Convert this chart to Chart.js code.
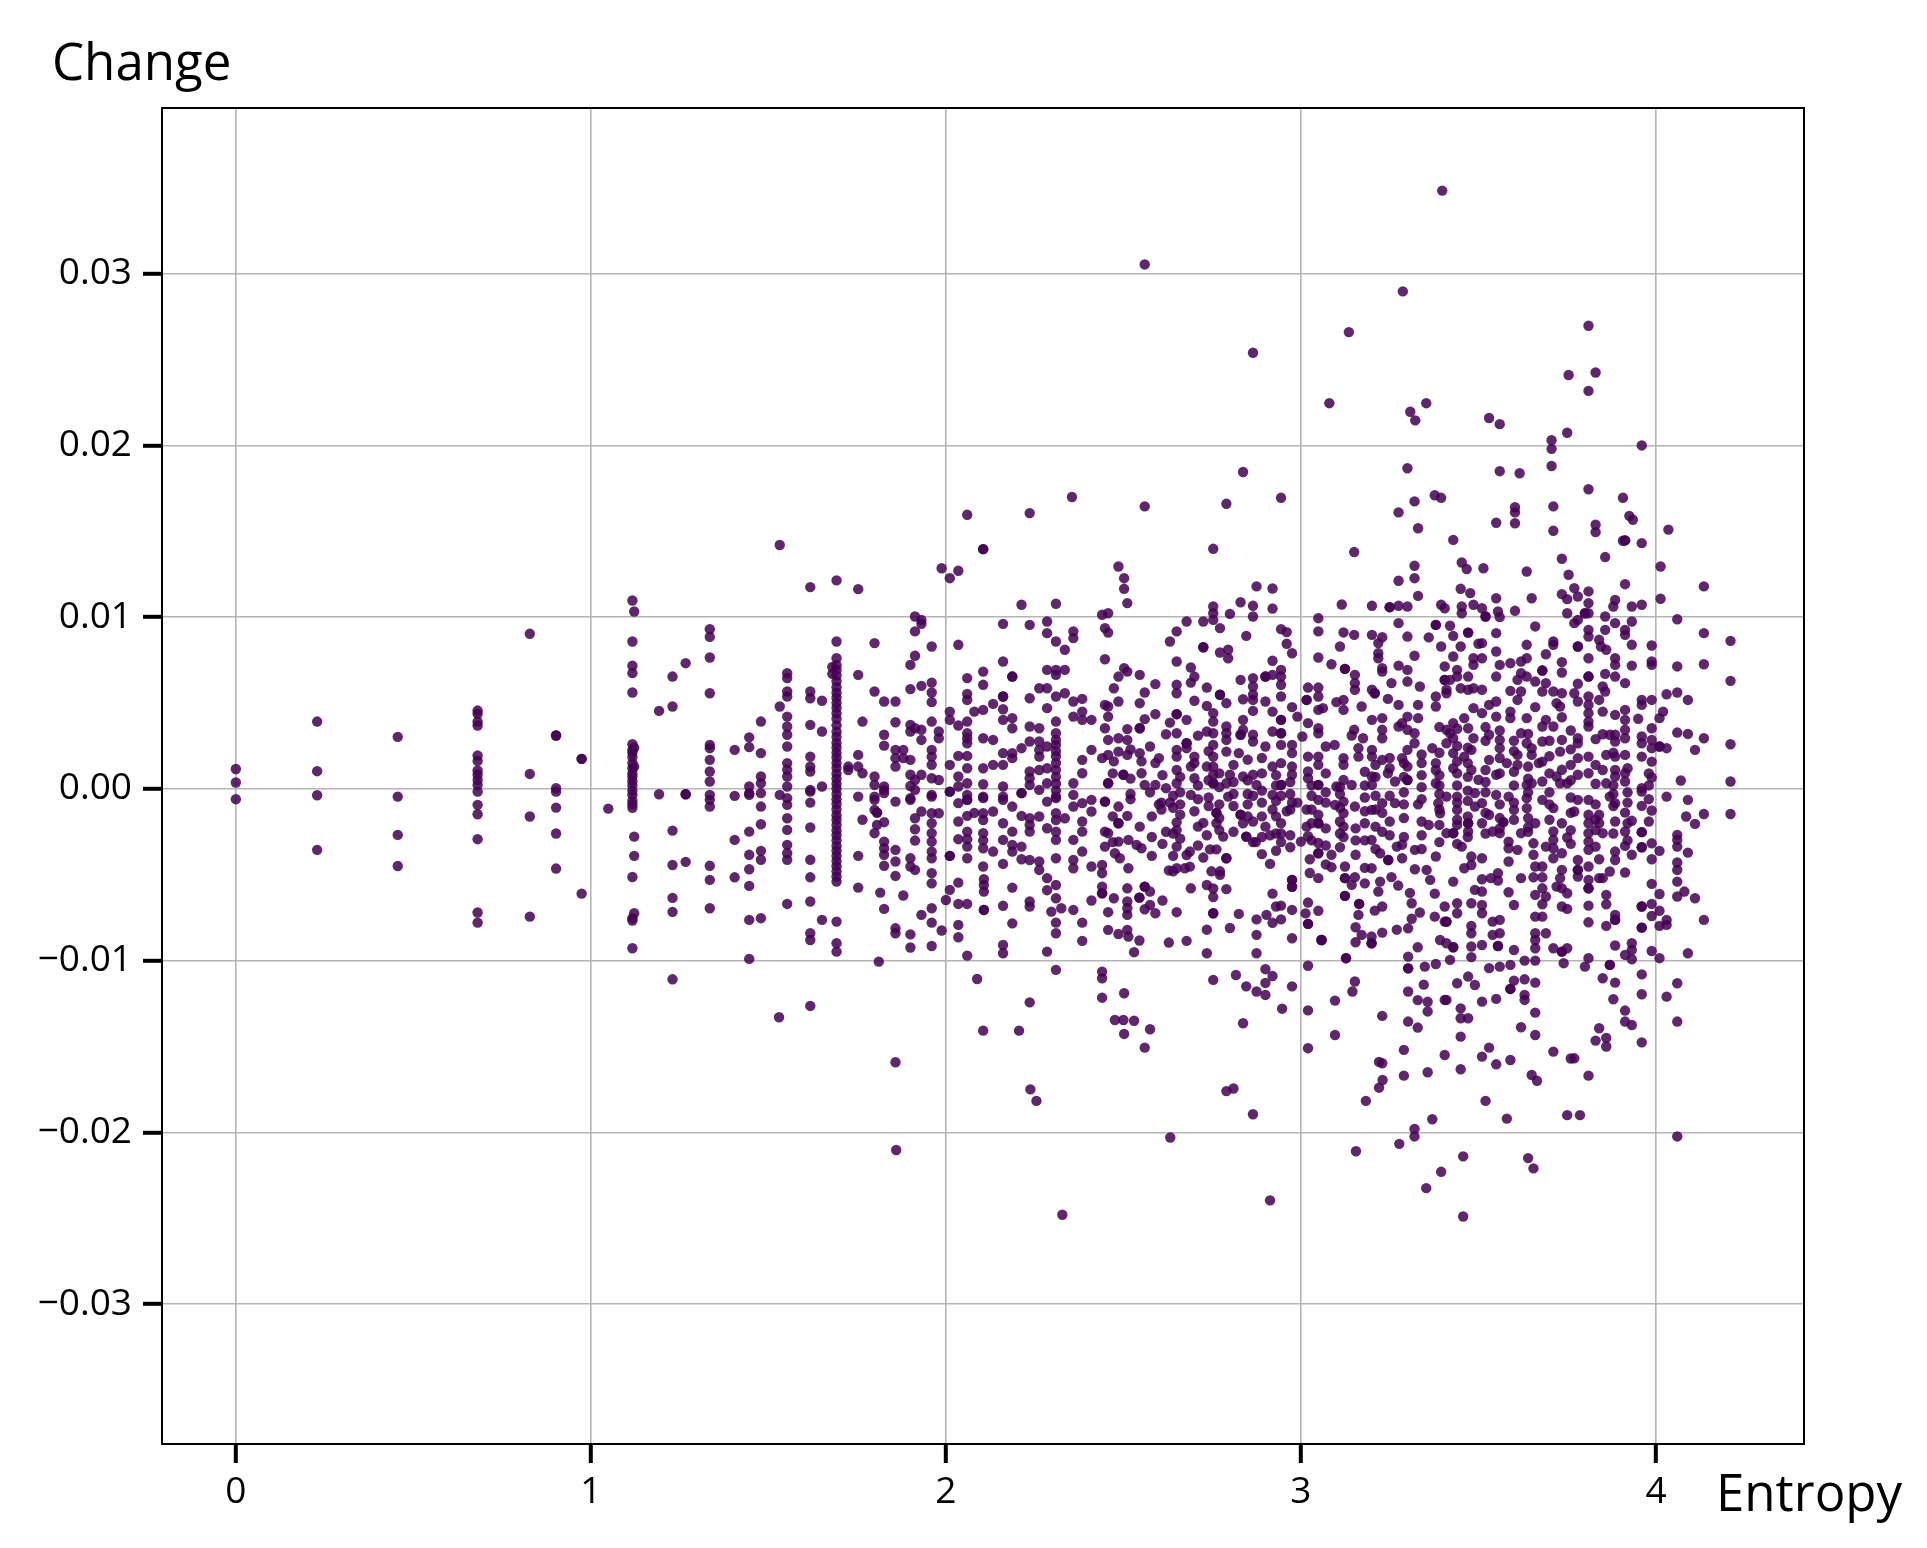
<!DOCTYPE html>
<html>
<head>
<meta charset="utf-8">
<style>html,body{margin:0;padding:0;background:#fff}canvas{display:block}</style>
<script src="https://cdn.jsdelivr.net/npm/chart.js@4"></script>
</head>
<body>
<canvas id="c" width="1927" height="1548"></canvas>
<script>
// Every row: [entropy, change in thousandths, change in thousandths, ...]
const xTickValues = [0, 1, 2, 3, 4];
const yTickValues = [0.03, 0.02, 0.01, 0, -0.01, -0.02, -0.03];
const xAxisName = "Entropy";
const yAxisName = "Change";

const rowsBelow13 = [
[0,1.16,.37,-.6],[.229,3.92,1.03,-.37,-3.55],[.456,3.03,-.45,-2.68,-4.49],
[.681,4.56,4.37,3.92,3.69,1.94,1.63,1.07,.82,.52,.23,-.16,-.93,-1.48,-2.93,-7.2,-7.79],
[.828,9.03,.87,-1.61,-7.44],[.902,3.11,3.11,.04,-.16,-1.09,-2.6,-4.64],[.974,1.75,1.75,-6.1],[1.049,-1.15],
[1.117,10.97,8.58,7.17,6.74,5.61,2.6,2.27,2.1,1.85,1.5,1.2,.9,.7,.45,.2,-.1,-.35,-.7,-.9,-1.1,-5.13,-7.53,-7.67,-9.28],
[1.122,10.33,2.4,1.3,-2.78,-3.9,-7.24],[1.192,4.54,-.31],[1.23,6.54,4.8,-2.43,-4.43,-6.35,-7.16,-11.09],[1.267,7.32,-.31,-.31,-4.25]
];
const rows13to20 = [
[1.335,9.3,8.85,7.65,5.57,2.56,2.37,1.69,1.01,.43,-.35,-.64,-1.03,-4.48,-5.3,-6.95],
[1.405,2.27,-.41,-2.97,-5.15],[1.446,3,2.43,.14,-.35,-.25,-2.49,-3.84,-4.68,-5.65,-7.63,-9.9],
[1.479,3.92,2.08,.72,.33,-.25,-1.03,-2.06,-3.61,-4.13,-7.53],[1.532,14.2,4.8,-.35],
[1.553,6.74,6.45,5.67,5.38,4.21,3.63,3.15,2.47,1.5,1.11,.72,.14,-.54,-.93,-1.71,-2.39,-3.26,-3.75,-4.13,-6.7],
[1.53,-13.3],[1.618,11.75,5.67,5.28,3.73,1.88,1.3,1.01,-.06,-.16,-.8,-2.25,-4.13,-5.15,-6.56,-8.41,-8.8,-12.64],
[1.651,5.13,3.34,.14,-7.63],
[1.692,12.14,8.58,7.61,7.2,6.93,6.6,6.27,5.92,5.6,5.31,5,4.72,4.4,4.08,3.7,3.33,3.02,2.68,2.41,2.1,1.83,1.5,1.22,.88,.6,.3,.02,-.3,-.6,-.88,-1.2,-1.53,-1.8,-2.1,-2.42,-2.7,-3,-3.32,-3.6,-3.9,-4.2,-4.5,-4.8,-5.1,-5.4,-7.73,-8.99,-9.48],
[1.68,7.1,6.7],[1.725,1.3,1.1],[1.753,11.63,6.64,1.98,1.3,-.45,-3.9,-5.75],[1.765,3.92,.91,-1.8],
[1.799,8.49,5.67,.72,.23,-.45,-.64,-1.22,-2.58],[1.806,-1.38,-1.38,-2.1],[1.811,-10.06],[1.815,-6.04],
[1.826,5.09,3.15,2.52,.14,-.25,-.06,-1.94,-3.07,-3.46,-3.84,-4.48,-6.99],
[1.858,5.09,3.88,2.27,1.79,1.3,-.74,-3.55,-4.23,-5.07,-8.12,-8.41,-15.92],[1.88,2.27,1.79,-6.21],
[1.86,-21.03],[1.9,7.22,5.81,3.73,3.34,1.69,.82,.17,-.54,-.64,-4.04,-4.52,-8.47,-9.24],
[1.913,10.04,9.17,7.75,3.53,.52,-.06,-1.71,-2.35,-3.01,-4.72],[1.931,9.84,9.61,6,3.44,2.85,.82,-1.32,-7.34],
[1.96,8.29,6.19,5.61,5.05,3.92,2.27,1.88,1.4,.62,-.35,-.45,-1.42,-2,-2.58,-3.07,-3.65,-4.04,-4.91,-5.5,-6.95,-7.79,-9.15],
[1.98,3.34,2.95,.52,-1.42],[1.988,12.85,-8.25]
];
const rows20to25 = [
[2.0,-6.47],[2.011,12.27,4.5,4.02,1.4,-.16,-.16,-3.9,-3.9,-5.88],
[2.035,12.7,8.39,3.69,1.92,.72,.14,-.83,-1.9,-2.93,-7.92,-8.64,-5.46,-6.7],
[2.06,15.96,6.45,5.53,5.18,3.92,3.24,2.95,2.66,1.92,1.2,.33,-.35,-.64,-.64,-1.57,-2.49,-2.93,-3.36,-4.04,-6.7,-9.71],
[2.08,4.5,-1.4],[2.088,-11.07],[2.105,13.96,13.96,6.83,6.06,4.6,2.95,1.2,.27,-.45,-.54,-1.42,-1.81,-2.58,-3,-3.46,-4.52,-14.08],
[2.107,-5.26,-5.6,-5.98,-7.05,-7.05],[2.133,4.95,2.85,1.4,-1.32,-3.65],
[2.161,9.61,7.42,5.38,5.38,4.64,4.02,2.08,1.4,.14,-.45,-.64,-2,-2.97,-4.37,-6.81,-9.09,-9.57],
[2.187,6.54,6.54,4.12,3.53,2.08,1.79,-1.03,-2.49,-3.26,-3.65,-5.75,-7.83],
[2.206,-14.08],[2.213,10.72,2.37,-.25,-.25,-1.57,-3.36,-4.1],
[2.236,16.06,9.55,5.28,3.63,2.76,1.01,.62,.23,-1.71,-2.1,-2.49,-4.14,-6.56,-6.85,-12.43],
[2.255,-18.17],[2.238,-17.5],[2.263,5.86,3.53,2.76,2.27,1.88,1.1,-.06,-1.61,-4.23,-4.72],
[2.285,9.75,9.07,6.93,5.86,4.7,2.47,1.2,.33,-.74,-2.29,-5.2,-5.9,-9.48],[2.297,-7.15],
[2.31,10.78,8.58,6.93,6.64,5.38,3.92,3.24,2.85,2.56,2.2,1.9,1.5,1.1,.7,.3,-.1,-.45,-.54,-1.42,-1.81,-2.49,-2.97,-4.04,-5.6,-6.37,-7.79,-8.41,-10.54],
[2.328,-24.8],[2.325,-6.95],[2.335,8.1,6.93,5.57,-1.71],[2.355,17],
[2.359,9.17,8.78,5.09,4.21,.33,-.35,-1.03,-2.97,-4.14,-4.62,-7.05],
[2.384,5.24,4.5,4.02,1.69,.91,-.83,-1.9,-2.49,-3.65,-7.79,-8.85],[2.41,4.02,2.27,-.64,-1.32,-4.52,-6.5],
[2.44,10.14,1.79,-4.43,-4.91,-5.69,-6.08,-6.08,-12.16,-10.64,-11.03],[2.448,9.36,7.55,4.89,3.53,-.74,-.74,-2.49,-3.36],
[2.457,10.23,9.1,4.8,4.21,2.85,1.98,.33,.33,-2.58,-7.18,-8.21],[2.473,5.86,1.6,-6.37],[2.476,-3.75,-13.46],
[2.486,12.95,6.54,5.09,2.95,2.17,-1.03,-2,-2,-3.07,-8.45],[2.49,-4.04],[2.5,.82,.82,-13.46],
[2.502,12.27,11.65,7.03,-11.9,-14.27],[2.511,10.82,6.83,3.48,2.85,1.98,-1.57,-5.79,-6.56,-6.95,-7.34,-8.21]
];
const rows25to30 = [
[2.514,-2.97,-4.62,-8.6],[2.53,-9.51,-13.5],[2.537,-3.26],[2.545,-6.33,-6.33,-8.83],[2.546,6.64,4.99,3.53,3.53,2.08,-2.2],
[2.551,1.6,.91,-3.46],[2.56,30.54,16.45,5.61,4.06,.23,-5.69,-5.69,-7.01,-15.07],[2.575,2.47,-5.98,-6.76,-14,-.2],
[2.59,6.1,4.35,1.5,.23,-7.24],[2.6,1.79,-.9],[2.607,-.8,-1.2],[2.62,3.18,.04,-2.5],[2.631,8.58,3.86,-.8],[2.632,-20.3],
[2.65,9.17,7.42,6.06,5.57,4.35,4.35,3.24,2.27,1.88,1.1,.33,-1.95,-2.4,-3.36,-4.62,-7.18],[2.628,-4.75,-8.95],
[2.673,-4.62],[2.678,9.75,4.02,2.66,2.66,2.37,-8.85,-3.85],[2.69,7.07,6.19,1.3,-.35,-5.79],[2.7,6.54,5.13,1.88,1.5,.62,-1.3],
[2.687,-3.65,-4.53],[2.725,9.75,8.25,8.25,-1.98,-4],[2.735,5.9,4.83,3.34,1.3,-2.7,-5.6,-8.2,-9.57],[2.744,-3.52],[2.748,-4.8],
[2.753,13.98,10.62,10.23,9.84,4.41,3.92,3.24,2.56,1.88,1.3,.82,.33,.33,-5.8,-6.3,-7.24,-7.24,-11.12],[2.762,-1.4,-1.4,-2,-3.52],
[2.772,9.36,7.94,5.48,5.48,-4.8,-5],[2.781,-2.78],[2.79,16.6,4.99,3.63,3.24,2.85,2.17,.33,-4.04,-4.04,-5.84],[2.795,8.1,7.61,-.45],
[2.8,10.19,.82,-8.1],[2.81,-17.45],[2.79,-17.6],[2.817,-10.84],[2.825,2.08,-7.28],[2.83,10.87,6.35,3.15,3.15,-1.5,-1.5],
[2.837,18.45,5.22,4.02,3.44,.72,-2,-13.65],[2.846,8.91,-2.78,-2.78,-11.5],[2.865,25.4,10.66,10.04,6.45,5.96,5.48,5.18,4.54,3.15,2.76,.82,-.4,-1.9,-3.1,-18.95],
[2.873,-3.1],[2.875,11.79,.23,-8.5,-7.6,-9.57,-11.8],[2.9,6.54,6.54,5.09,2.47,-2.2,-10.5,-11.3,-12],[2.903,-7.34],
[2.913,-2.7,-4.37,-23.96],[2.92,11.67,10.5,7.46,6.64,4.5,3.34,1.3,-.35,-1.2,-6.1,-7.8,-10.9],[2.93,-2.6,-6.85],
[2.944,16.95,9.3,6.93,6.54,6.06,5.38,4.02,4.02,3.24,3.24,2.56,1.5,.23,.23,-.4,-2,-2.6,-3.1,-6.8,-7.6],[2.96,9.13,8.45,-1.3],
[2.975,7.9,4.76,2.56,2.08,1.3,.82,-.8,-5.3,-5.3,-5.7,-5.7,-7.05,-8.7,-11.5],[2.99,4.21,-.8],[2.947,-12.8],[3.004,3.05]
];
const rows30to34 = [
[3.013,-7.25],[3.016,5.18,5.18,-1.2,-2.2],[3.02,5.9,3.83,1.88,1.01,.62,-2.76,-6.62,-7.86,-7.86,-10.3,-12.9,-15.1],[3.0,-3.07],
[3.025,-4.1,-4.9],[3.049,9.94,9.17,7.65,5.9,5.38,4.6,3.53,3.24,1.88,1.4,.23,.23,-.64,-1.51,-2,-2,-3.15,-3.75,-3.75,-5.2,-7.1],
[3.058,-8.8,-8.8,-8.8],[3.08,22.46],[3.07,2.47],[3.062,4.7],[3.086,7.26,-3.84,-4.56],[3.1,5.05,.14],[3.095,2.56],
[3.096,-12.33,-14.33,-.93],[3.11,8.29],[3.115,10.74],[3.12,9.11,5.18,4.6,1.79,1.4,.52,-.74,-1.42,-2.2,-2.8],
[3.124,6.99,6.99,-4.52,-5.2,-5.2,-6.23,-6.23],[3.127,-9.86,-9.86],[3.135,26.6],[3.143,-5.59,3.11,.23],[3.145,-11.8],
[3.15,13.79,8.97,3.44],[3.152,6.64,6.16,5.77,-1.03,-5.14,-11.22],[3.154,-3.84,-8.06,-8.93,-2.3,-3],[3.155,-21.1],
[3.162,2.37,1.88,-7.34],[3.164,-6.7,-6.7],[3.171,4.8,-8.5],[3.175,2.95],[3.183,-18.17],[3.2,10.66,8.97,5.77,4.02,2.27,1.88,.72,.23],
[3.199,-1.22,-2.97,-4.62,-8.6,-8.99,-8.99],[3.208,5.57,5.57,-7.09],[3.218,8.49,7.9,7.61,-5.98],[3.223,-3.75,-5.4],
[3.229,8.83,7.03,6.83,4.12,3.44,2.95,1.69,-.83,-1.4,-2.5,-6.85,-8.37,-13.22,-15.98],[3.23,-16.95],[3.245,5.24,.91],
[3.246,-4.14,-4.14],[3.25,10.58,10.58],[3.255,6.16,-5.14],[3.265,.43,-.83],[3.27,-3.36,-8.2],[3.275,16.1,12.12,10.66,9.65,7.18,4.89,3.63],
[3.274,-5.63],[3.277,-20.67],[3.285,3.83,1.79,-3.25,-4.04],[3.287,28.97],[3.3,18.67,10.62,8.87,6.93,6.25,4.21,3.44,2.27,1.3,.52,.52],
[3.302,-8.12,-9.77,-10.45,-10.45,-11.8,-13.55],[3.307,-6.06],[3.308,21.96],[3.312,-6.66,-7.56],[3.32,16.74,12.99,12.27,7.75,3.24,2.66],
[3.321,-3.55,-4.68],[3.322,21.46],[3.329,-9.22,-12.3,-13.9],[3.33,15.18,11.24,4.89,4.12,-.9],[3.335,5.96,-7.2],[3.32,-20.24,-19.8],
[3.346,-11.4],[3.353,22.46,-23.25],[3.349,-10.35],[3.357,-16.5,-12.4,-12.96],[3.354,-4.72],[3.36,8.82,-2.1],[3.364,-5.3],
[3.37,2.37,-19.24],[3.377,17.1,-6.1,-7.44],[3.38,9.55,9.55,5.38,4.8,1.5,1.1,.33,-3.94,-10.2],[3.387,-.83],[3.392,-1.42,-8.8],
[3.395,16.95,8.29,10.72,-22.3],[3.398,34.84],[3.405,10.52,7.13,6.35,6.35,-6.85,-7.73,-15.5,-12.29],[3.41,5.77,3.44,2.66,5.57,-.45,-7.73,-7.73,-2.58,-12.29,-8.99]
];
const rows34to38 = [
[3.42,9.5,6.35,3.24,-9.96],[3.429,14.5,8.91,7.71,3.83,2.95,2.08,1.2,-2.58,-2.58,-5.4,-9.22,-9.22],[3.44,6.54,6.93,-1.22,-.45,-6.66,-7.24,-11.32],
[3.45,8.29,5.86,11.65,-12.78,-13.36,-14.43,-16.33],[3.453,13.18,10.62,10.23,-3.36],[3.457,-24.9,-21.4],[3.46,4.12,1.88,-4.62],
[3.467,12.8],[3.471,9.1,9.1,6.54,5.77,3.53,-2,-2,-2.48,-10.93,-13.36],[3.477,11.4],[3.486,10.72,4.7,7.61,7.22,5.86,2.95],
[3.48,2.27,1.1,-3.94,-4.43,-6.66,-7.98,-8.41,-9.18,-9.8],[3.49,-.25,-1.03,-5.88,-11.42],[3.5,8.45,.53],
[3.51,10.52,8.49,7.61,5.77,4.41,-.83,-2,-4.04,-5.26,-5.98,-6.76,-7.24,-9.09,-12.39,-15.59],[3.514,12.85],[3.52,10.04,10.04,-18.17],
[3.53,21.6,4.89,3.15,1.69,-1.51,-10.44,-15.07],[3.535,-5.2],[3.54,-2.48,-7.73,-8.5],[3.55,15.5,11.1,9.07,8,6.54,5.09,4.21,.82,-.35,-12.23,-16.04],
[3.555,10.33,-4.91,-5.34,-9.15,-9.15],[3.56,21.24,18.5,10,7.22,2.85,2.37,-2.58,-7.63,-8.41,-10.35],[3.57,-1.94,-1.94],
[3.58,1.5,-19.2],[3.585,-.45,-3.07,-3.46,-4.23,-6.02],[3.59,7.32,5.71,4.5,4.12,-10.25,-11.65,-11.65,-15.79],[3.6,-1.22,-6.76,-9.38,-11.17],
[3.603,16.4,16.1,15.47,10.37],[3.616,18.38],[3.61,6.35,5.18,1.98,1.4,-3.55],[3.62,6.74,5.67,3.24,7.42,-2.58,-5.2,-13.88],
[3.63,-10,-11.09,-12,-12.29],[3.636,12.66,8.39,7.61,6.54,4.12,2.66,.23,-.54,-1.12],[3.64,-2.23,-21.5],[3.65,11.1,2.37,1.98,.33,-16.66],
[3.655,-3.17,-3.84,-5.15,-22.1],[3.66,9.46,6.25,4.76,-2,-4.52,-6.17,-7.44,-8.41,-8.8,-9.28,-10,-11.28,-13.03,-14.33],[3.665,-17],[3.67,1.5],
[3.68,6.89,6.89,5.67,3.63,2.76,1.59,.43,-.64,-4.52,-5.15,-5.79,-6.72,-7.44],[3.69,7.84,6.16,4.02,-3.36,-6.27,-8.41],
[3.706,20.3,19.8,18.8],[3.711,16.45,15.03,8.58,8.39,5.67,3.63,-1.12,-2.48,-2.97,-3.46,-4.04,-9.28,-15.3],[3.72,4.99,.72,-5.69],
[3.73,4.8,2.17,.33,-5.2],[3.735,13.4,11.34,7.38,6.78,5.57,4.17,2.85,1.11,-2,-3.75,-4.72,-5.79,-6.85,-9.48,-9.48],[3.74,-10.15],
[3.75,20.74,11.05,10.23,.33,-2.83,-6.08,-6.99,-9.28,-19],[3.754,24.1,12.47],[3.76,-15.7],[3.77,11.69,9.65,5.57,-1.32,-15.69],
[3.78,11.2,9.84,8.29,8.29,6.12,5.09,2.95,2.66,1.79,.82,-.64,-4.14,-4.72,-4.72,-5.1],[3.786,-19],[3.8,10.23,10.23,-10.35]
];
const rowsAbove38 = [
[3.81,26.97,23.18,17.45,11.5,10.82,10.23,9.26,8.87,7.61,6.54,6.54,5.38,4.89,4.41,3.92,3.63,1.88,.91,-.64,-1.51,-2,-2.58,-3.07,-3.55,-4.52,-5.3,-5.79,-5.79,-6.8,-7.77,-9.86,-16.7],
[3.83,24.25,15.38,14.95,-3.36,-14.66],[3.84,8.68,5.18,-2,-1.51,-4.1,-5.2,-13.94],[3.845,8.29],[3.85,5.96,4.5,3.18,1.1,-2.58,-5.2,-11.03],
[3.857,13.5,10.04,9.26,6.7,5.67],[3.86,8.1,1.98,.33,-6.17,-6.72,-7.98,-14.5,-15],[3.87,3.15,-.45,-4.81,-10.25,-10.25],
[3.885,11,9.65,7.61,7.22,6.54,4.31,3.15,2.76,1.88,1.1,.72,-.83,-1.9,-3.65,-4.14,-7.34,-7.63,-7.63,-9.12,-11.28],[3.88,10.62,-12.25],
[3.907,16.95,14.45],[3.913,14.47,14.47,11.92,9.26,8.97,6.16,4.6,4.02,3.44,2.95,1.98,.91,.43,-1.38,-2.48,-3.32,-4.87,-9.67,-12.91,-13.55],
[3.925,15.9],[3.935,15.67],[3.932,10.62,9.75,8.39,7.18,-1.86,-3.84,-8.99,-9.38,-9.92,-13.75],
[3.95,4.08],[3.96,20,14.31,10.72,5.18,4.89,3.05,2.66,1.88,.04,-.15,-.99,-2.52,-2.52,-3.4,-3.4,-6.85,-6.85,-8.08,-8.08,-10.8,-11.96,-14.76],
[3.988,8.35,7.42,7.22,5.18,3.53,2.85,2.37,1.59,.66,-1.26,-3.17,-4.1,-5.53,-6.7,-7.4,-9.44],
[4.01,4.12,2.47,2.47,-3.61,-6.12,-7.1,-7.98,-9.86],[4.013,12.95,11.07],[4.02,4.5],[4.03,5.51,2.37,-.45,-7.63,-7.92,-12.1],[4.035,15.1],
[4.06,9.88,7.13,5.61,3.28,-2.68,-2.97,-3.36,-4.29,-4.72,-5.4,-6.27,-11.32,-13.55,-20.24],[4.07,.49],[4.08,-5.98],[4.085,-1.61],
[4.09,5.18,3.2,-.64,-3.71,-9.57],[4.11,2.27,-2.04,-6.37],[4.135,11.79,9.07,7.26,2.95,-1.46,-7.63],[4.21,8.62,6.29,2.6,.43,-1.46]
];
// Rough by-eye estimates for the overlapped central band, where single marks cannot be told apart.
const rowsDenseCentreEstimates = [
[2.47,.9,-1.6,-3.1],[2.52,-.6,-.3,2.3,.6],[2.58,-1.6,-2.8,-3.9],[2.61,.8,-3.2,-6.5],[2.64,-.4,-1.1,-2.6,-3.9,-4.8],[2.66,.7,-.2,-.9,-1.5,-2.9],
[2.71,.2,-.6,-2.2,-3.3,3.1],[2.74,.5,-.5,-1,2.2],[2.77,.9,.1,-.9,-1.7,-2.4],[2.81,1.4,.4,-.3,-1,-2.5],[2.85,1.7,.5,-.3,-.9,-1.6],
[2.89,1.8,.9,-.1,-.8,-1.6,-2.8,-3.8],[2.93,.8,.2,-.7,-1.6,-3.6],[2.97,.4,-.3,-1.2,-2.7,-3.4],[3.03,.2,-.4,-1.2,-2,-3],[3.07,.9,-.2,-.8,-2.3,-3.3,-4.4],
[3.11,.1,-.3,-1.1,-1.9,-2.6,-3.4],[3.18,1,.2,-.5,-1.3,-2,-3,-4.6,-5.5],[3.21,1.4,.7,-.4,-1.2,-2.2,-3.5],[3.25,1.8,1.2,-.4,-1.9,-2.7],
[3.29,1.5,.7,-.2,-.9,-1.7,-2.8],[3.34,2,1.5,.8,.1,-.6,-1.9,-2.7,-3.5],[3.39,3.6,2.1,.8,.2,-.3,-1.2,-2.1,-3.1],[3.44,3.5,2.5,1.6,.9,.2,-.8,-1.8,-2.1,-3.2],
[3.47,2.4,1.5,.7,-.1,-.7,-1.6,-2.8],[3.52,3.6,2.8,1.1,.4,-.2,-1.4,-2.6],[3.56,3.4,1.8,.9,-.9,-1.7,-2.3],[3.6,2.8,2.2,1,.2,-.8,-1.8],
[3.64,3.2,1.3,.6,-.2,-1.7,-2.5],[3.7,2.8,1.9,.9,-.2,-.9,-1.8],[3.76,3.4,2.3,1.4,.5,-.5,-1.4,-2.4,-3.2],[3.83,2.9,1.4,.3,-.9,-1.8,-2.4],
[3.88,2.1,.2,-.3,-1,-2.6],[3.92,1.2,-.2,-.8,-2,-3],[3.98,.9,.2,-.6,-1.9],
[3.29,-15.2,-16.7],[3.22,-17.4,-15.9]
];

const allRows = [rowsBelow13, rows13to20, rows20to25, rows25to30, rows30to34, rows34to38, rowsAbove38, rowsDenseCentreEstimates].flat();
const entropy = [];
const change = [];
for (const [level, ...values] of allRows) {
  for (const v of values) { entropy.push(level); change.push(v / 1000); }
}

const gridOpts = { color:'#b4b4b4', lineWidth:1.6, tickColor:'#000', tickWidth:4, tickLength:19 };
const fmtY = v => (v < 0 ? '\u2212' : '') + Math.abs(v).toFixed(2);

const frameAndNames = {
  id:'frameAndNames',
  beforeDatasetsDraw(chart){
    const {ctx, chartArea:a} = chart;
    ctx.save(); ctx.strokeStyle='#000'; ctx.lineWidth=2;
    ctx.strokeRect(a.left, a.top, a.right-a.left, a.bottom-a.top);
    ctx.restore();
  },
  afterDraw(chart){
    const {ctx} = chart;
    ctx.save(); ctx.fillStyle='#000'; ctx.textBaseline='alphabetic'; ctx.textAlign='left';
    ctx.font='51px "Open Sans"';
    ctx.fillText(yAxisName, 52, 80);
    ctx.fillText(xAxisName, 1716, 1511);
    ctx.restore();
  }
};

new Chart(document.getElementById('c'), {
  type:'scatter',
  data:{ datasets:[{
    data: entropy.map((x,i)=>({x, y:change[i]})),
    backgroundColor:'rgba(68,1,84,0.85)', borderWidth:0, pointRadius:5.2, pointHoverRadius:5.2
  }]},
  plugins:[frameAndNames],
  options:{
    responsive:false, animation:false, devicePixelRatio:1,
    layout:{padding:{left:0,top:108,right:123,bottom:0}},
    plugins:{legend:{display:false},tooltip:{enabled:false},title:{display:false}},
    scales:{
      x:{ type:'linear', min:-0.208, max:4.417,
        afterFit:s=>{s.height=104;},
        afterBuildTicks:s=>{s.ticks=xTickValues.map(value=>({value}));},
        grid:gridOpts, border:{display:false},
        ticks:{color:'#000',font:{family:'"Open Sans"',size:37},padding:7,maxRotation:0,autoSkip:false,callback:v=>String(v)}
      },
      y:{ type:'linear', min:-0.03815, max:0.03965,
        afterFit:s=>{s.width=162;},
        afterBuildTicks:s=>{s.ticks=yTickValues.map(value=>({value}));},
        grid:gridOpts, border:{display:false},
        ticks:{color:'#000',font:{family:'"Open Sans"',size:37},padding:11,autoSkip:false,callback:fmtY}
      }
    }
  }
});
</script>
</body>
</html>
